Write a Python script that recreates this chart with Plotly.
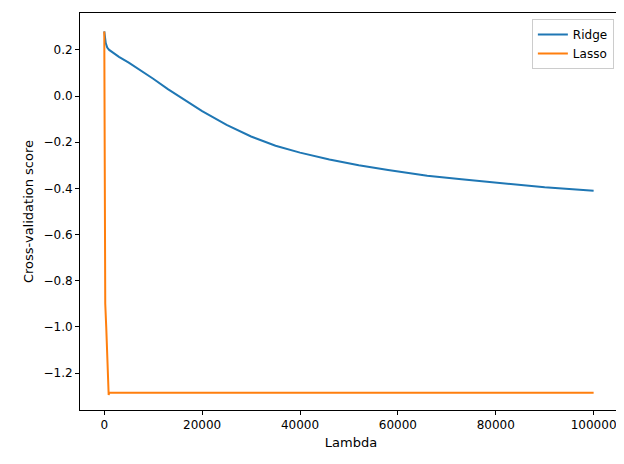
import plotly.graph_objects as go

ridge_lambda = [1, 100, 300, 600, 1000, 2000, 3000, 5000, 8000, 10000, 13000, 16000, 20000, 25000, 30000, 35000, 40000, 46000, 52000, 58000, 66000, 73000, 80000, 90000, 100000]
ridge_score = [0.28, 0.26, 0.23, 0.21, 0.20, 0.185, 0.17, 0.145, 0.105, 0.075, 0.03, -0.01, -0.065, -0.125, -0.175, -0.215, -0.245, -0.275, -0.30, -0.32, -0.345, -0.36, -0.375, -0.395, -0.41]

lasso_lambda = [1, 30, 60, 100, 200, 400, 600, 800, 900, 1000, 1200, 5000, 20000, 50000, 100000]
lasso_score = [0.28, 0.1, -0.5, -0.86, -0.9, -1.0, -1.15, -1.27, -1.295, -1.285, -1.285, -1.285, -1.285, -1.285, -1.285]

fig = go.Figure()
fig.add_trace(go.Scatter(x=ridge_lambda, y=ridge_score, mode="lines", name="Ridge",
                         line=dict(color="#1f77b4", width=2)))
fig.add_trace(go.Scatter(x=lasso_lambda, y=lasso_score, mode="lines", name="Lasso",
                         line=dict(color="#ff7f0e", width=2)))

axis_common = dict(showgrid=False, zeroline=False, showline=True, linecolor="black",
                   mirror=True, ticks="outside", ticklen=4, tickcolor="black", automargin=False,
                   tickfont=dict(family="DejaVu Sans", size=12, color="black"))
fig.update_xaxes(range=[-4960, 105800], tickvals=[0, 20000, 40000, 60000, 80000, 100000],
                 ticktext=["0", "20000", "40000", "60000", "80000", "100000"],
                 title=dict(text="Lambda", font=dict(family="DejaVu Sans", size=13, color="black"), standoff=6),
                 **axis_common)
fig.update_yaxes(range=[-1.36, 0.36], tickvals=[0.2, 0.0, -0.2, -0.4, -0.6, -0.8, -1.0, -1.2],
                 ticktext=["0.2", "0.0", "−0.2", "−0.4", "−0.6", "−0.8", "−1.0", "−1.2"],
                 title=dict(text="Cross-validation score", font=dict(family="DejaVu Sans", size=13, color="black"), standoff=6),
                 **axis_common)
fig.update_layout(width=624, height=464, margin=dict(l=72, r=10, t=5, b=62),
                  plot_bgcolor="white", paper_bgcolor="white",
                  legend=dict(x=0.985, y=0.985, xanchor="right", yanchor="top",
                              bordercolor="#cccccc", borderwidth=1, bgcolor="white",
                              font=dict(family="DejaVu Sans", size=12, color="black")))
fig.write_html("out.html")
